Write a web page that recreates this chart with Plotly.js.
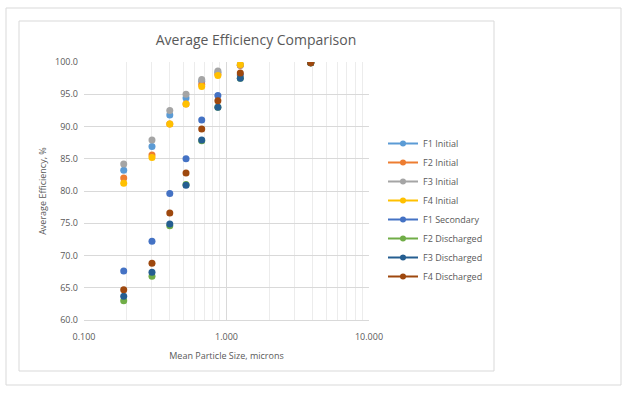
<!DOCTYPE html>
<html>
<head>
<meta charset="utf-8">
<script src="https://cdn.plot.ly/plotly-3.0.1.min.js"></script>
<style>html,body{margin:0;padding:0;background:#fff;}#chart{width:629px;height:395px;}</style>
</head>
<body>
<div id="chart"></div>
<script>
const particleSize = [0.19, 0.30, 0.40, 0.52, 0.67, 0.87, 1.25, 3.90];

const seriesNames = ["F1 Initial","F2 Initial","F3 Initial","F4 Initial","F1 Secondary","F2 Discharged","F3 Discharged","F4 Discharged"];
const seriesColors = ["#5B9BD5","#ED7D31","#A5A5A5","#FFC000","#4472C4","#70AD47","#255E91","#9E480E"];

const f1Initial     = [83.2, 86.9, 91.8, 94.4, 97.0, 98.4, 99.5, 99.9];
const f2Initial     = [82.0, 85.6, 90.4, 93.5, 96.5, 98.1, 99.5, 99.9];
const f3Initial     = [84.2, 87.9, 92.5, 95.0, 97.3, 98.6, 99.6, 99.9];
const f4Initial     = [81.2, 85.2, 90.4, 93.5, 96.2, 97.9, 99.6, 99.9];
const f1Secondary   = [67.6, 72.2, 79.6, 85.0, 91.0, 94.8, 98.0, 99.9];
const f2Discharged  = [63.0, 66.8, 74.6, 81.0, 87.8, 93.0, 97.5, 99.9];
const f3Discharged  = [63.7, 67.4, 74.9, 80.9, 87.9, 93.0, 97.5, 99.9];
const f4Discharged  = [64.7, 68.8, 76.6, 82.8, 89.6, 94.0, 98.3, 99.9];

const allSeries = [f1Initial,f2Initial,f3Initial,f4Initial,f1Secondary,f2Discharged,f3Discharged,f4Discharged];

const xTickVals = [0.1, 1, 10];
const xTickText = ["0.100", "1.000", "10.000"];

const traces = [];
allSeries.forEach((ys, i) => {
  traces.push({
    x: particleSize, y: ys, type: 'scatter', mode: 'markers',
    name: seriesNames[i], showlegend: false,
    marker: {color: seriesColors[i], size: 7}
  });
});
allSeries.forEach((ys, i) => {
  traces.push({
    x: [null], y: [null], type: 'scatter', mode: 'lines+markers',
    name: seriesNames[i], showlegend: true,
    line: {color: seriesColors[i], width: 2},
    marker: {color: seriesColors[i], size: 6}
  });
});

const W = 285, H = 258, L = 84, T = 62;
function px(x){ return (x - L) / W; }
function py(y){ return (T + H - y) / H; }

const layout = {
  width: 629, height: 395,
  margin: {l: L, r: 629 - L - W, t: T, b: 395 - T - H},
  paper_bgcolor: '#ffffff', plot_bgcolor: '#ffffff',
  font: {family: 'Open Sans, Liberation Sans, sans-serif', color: '#595959', size: 9},
  title: {text: 'Average Efficiency Comparison', font: {size: 14, color: '#595959'},
          x: px(256), xanchor: 'center', xref: 'paper', y: 1 - 40/395, yanchor: 'middle'},
  xaxis: {
    type: 'log', range: [-1, 1],
    tickvals: xTickVals, ticktext: xTickText,
    showgrid: true, gridcolor: '#d9d9d9', gridwidth: 1,
    minor: {showgrid: true, gridcolor: '#ececec', dtick: 'D1', ticks: ''},
    zeroline: false, showline: true, linecolor: '#d9d9d9',
    ticks: '', ticklabelstandoff: 8, tickfont: {size: 9, color: '#595959'},
    title: {text: 'Mean Particle Size, microns', font: {size: 9, color: '#595959'}, standoff: 10}
  },
  yaxis: {
    range: [60, 100], dtick: 5, tickformat: '.1f',
    showgrid: true, gridcolor: '#d9d9d9', gridwidth: 1,
    zeroline: false, showline: false, ticks: '', ticklabelstandoff: 5,
    tickfont: {size: 9, color: '#595959'},
    title: {text: 'Average Efficiency, %', font: {size: 9, color: '#595959'}, standoff: 6}
  },
  legend: {
    x: px(383), y: py(129), xanchor: 'left', yanchor: 'top',
    font: {size: 9, color: '#595959'}, bgcolor: 'rgba(0,0,0,0)',
    itemwidth: 30, tracegroupgap: 0
  },
  shapes: [
    {type: 'rect', xref: 'paper', yref: 'paper', x0: px(6), x1: px(621), y0: py(385), y1: py(8),
     line: {color: '#d9d9d9', width: 1}, layer: 'below'},
    {type: 'rect', xref: 'paper', yref: 'paper', x0: px(19), x1: px(494), y0: py(371), y1: py(21),
     line: {color: '#d9d9d9', width: 1}, layer: 'below'}
  ]
};

Plotly.newPlot('chart', traces, layout, {displayModeBar: false, staticPlot: true});
</script>
</body>
</html>
